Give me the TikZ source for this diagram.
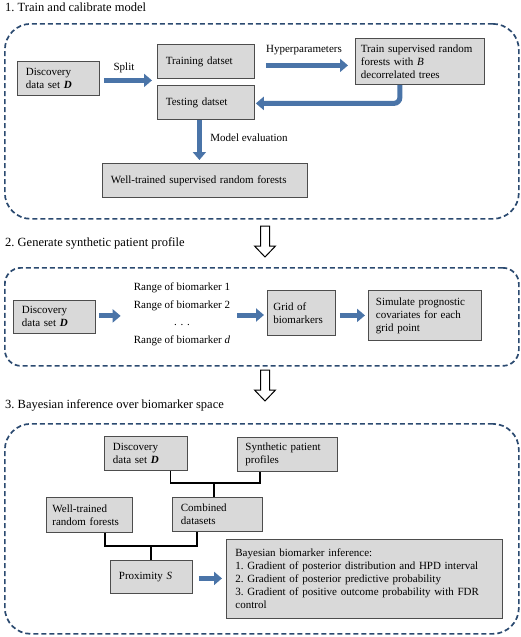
\documentclass[tikz,border=0pt]{standalone}
\usepackage{fontspec}
\setmainfont{Liberation Serif}
\usetikzlibrary{arrows.meta,calc}
\definecolor{boxfill}{HTML}{D9D9D9}
\definecolor{boxline}{HTML}{4D4D4D}
\definecolor{arrblue}{HTML}{4A74A8}
\definecolor{dashblue}{HTML}{2B4A70}
\newcommand\fs{\frenchspacing\fontsize{11}{13}\selectfont}
\newcommand\ts{\frenchspacing\fontsize{12.5}{14}\selectfont}
\tikzset{
  bx/.style={draw=boxline, fill=boxfill, line width=0.8pt, anchor=north west,
    inner xsep=8.5pt, inner ysep=2pt, align=left, font=\fs},
  dbox/.style={draw=dashblue, line width=1.7pt, dash pattern=on 5pt off 3pt,
    anchor=north west, inner sep=0pt},
  barrow/.style={draw=arrblue, line width=5pt, -{Triangle[length=8pt,width=13pt]}},
  conn/.style={draw=black, line width=1.2pt},
  lbl/.style={font=\fs, inner sep=0pt},
  ttl/.style={font=\ts, inner sep=0pt, anchor=west},
  hollow/.style={draw=black, line width=1pt, fill=white, line join=miter}
}
\begin{document}
\begin{tikzpicture}[x=1pt,y=-1pt]
\useasboundingbox (0,0) rectangle (520,637);
% ---------- Section 1 ----------
\node[ttl] (t1) at (5,7) {1. Train and calibrate model};
\node[dbox, minimum width=514pt, minimum height=195pt, rounded corners=26pt] (sec1) at (4,23) {};
\node[bx, minimum width=82pt, minimum height=34pt, text width=65pt] (disc1) at (17,61) {Discovery\\data set \textbf{\textit{D}}};
\node[bx, minimum width=97pt, minimum height=34pt, text width=80pt] (train) at (157,44) {Training datset};
\node[bx, minimum width=97pt, minimum height=34pt, text width=80pt] (test) at (157,85) {Testing datset};
\node[bx, minimum width=129pt, minimum height=46pt, text width=118pt, inner xsep=5.5pt] (rf) at (355,38) {Train supervised random\\forests with \textit{B}\\decorrelated trees};
\node[bx, minimum width=205pt, minimum height=34pt, text width=188pt] (well) at (102,163) {Well-trained supervised random forests};
\draw[barrow] ($(disc1.east)+(4,2)$) -- ($(disc1.east -| train.west)+(-5,2)$);
\node[lbl] (lsplit) at (124,68) {Split};
\draw[barrow] ($(train.east)+(11,4)$) -- ($(train.east -| rf.west)+(-7,4)$);
\node[lbl] (lhyper) at (304,50) {Hyperparameters};
\draw[barrow, rounded corners=6pt] ($(rf.south)+(-20,0)$) |- ($(test.east)+(1,1)$);
\draw[barrow] ($(test.south)+(-6.5,0)$) -- ($(test.south |- well.north)+(-6.5,-3)$);
\node[lbl] (leval) at (249,138) {Model evaluation};
% hollow arrow 1
\draw[hollow] (260.5,226) -- (269.5,226) -- (269.5,246) -- (275.5,246) -- (265,257) -- (254.5,246) -- (260.5,246) -- cycle;
% ---------- Section 2 ----------
\node[ttl] (t2) at (5,243) {2. Generate synthetic patient profile};
\node[dbox, minimum width=514pt, minimum height=98pt, rounded corners=16pt] (sec2) at (4,267) {};
\node[bx, minimum width=82pt, minimum height=33pt, text width=65pt] (disc2) at (13,300) {Discovery\\data set \textbf{\textit{D}}};
\node[font=\fontsize{11}{17.6}\selectfont, align=center, inner sep=0pt] (ranges) at (182,314.5)
  {Range of biomarker 1\\Range of biomarker 2\\. . .\\Range of biomarker \textit{d}};
\node[bx, minimum width=68pt, minimum height=45pt, text width=56pt, inner xsep=6pt] (grid) at (267,290) {Grid of\\biomarkers};
\node[bx, minimum width=113pt, minimum height=50pt, text width=98pt, inner xsep=7.5pt] (sim) at (368,290) {Simulate prognostic\\covariates for each\\grid point};
\draw[barrow] ($(disc2.east)+(3,-1)$) -- ($(disc2.east -| ranges.west)+(-13,-1)$);
\draw[barrow] ($(ranges.east)+(7,0.5)$) -- ($(ranges.east -| grid.west)+(-3,0.5)$);
\draw[barrow] ($(grid.east)+(4,2.5)$) -- ($(grid.east -| sim.west)+(-3,2.5)$);
% hollow arrow 2
\draw[hollow] (260.5,370) -- (269.5,370) -- (269.5,390) -- (275.5,390) -- (265,401) -- (254.5,390) -- (260.5,390) -- cycle;
% ---------- Section 3 ----------
\node[ttl] (t3) at (5,405) {3. Bayesian inference over biomarker space};
\node[dbox, minimum width=514pt, minimum height=210pt, rounded corners=26pt] (sec3) at (4,423) {};
\node[bx, minimum width=83pt, minimum height=34pt, text width=66pt] (disc3) at (104,436) {Discovery\\data set \textbf{\textit{D}}};
\node[bx, minimum width=100pt, minimum height=34pt, text width=84pt, inner xsep=8pt] (synth) at (237,437) {Synthetic patient\\profiles};
\node[bx, minimum width=90pt, minimum height=34pt, text width=73pt] (comb) at (172,497) {Combined\\datasets};
\node[bx, minimum width=86pt, minimum height=35pt, text width=74pt, inner xsep=6pt] (wellrf) at (46,497) {Well-trained\\random forests};
\node[bx, minimum width=82pt, minimum height=33pt, text width=65pt] (prox) at (110,560) {Proximity \textit{S}};
\node[bx, minimum width=276pt, minimum height=79pt, text width=258pt, inner xsep=9pt] (bayes) at (226,539)
  {Bayesian biomarker inference:\\1. Gradient of posterior distribution and HPD interval\\2. Gradient of posterior predictive probability\\3. Gradient of positive outcome probability with FDR\\control};
\coordinate (j1) at (214,483);
\coordinate (j2) at (151,546);
\draw[conn] ($(disc3.south east)+(-17,0)$) |- (j1) -| ($(synth.south west)+(23,0)$);
\draw[conn] (j1) -- (j1 |- comb.north);
\draw[conn] ($(wellrf.south west)+(59,0)$) |- (j2) -| ($(comb.south west)+(25,0)$);
\draw[conn] (j2) -- (j2 |- prox.north);
\draw[barrow] ($(prox.east)+(6,1.5)$) -- ($(prox.east -| bayes.west)+(-4,1.5)$);
\end{tikzpicture}
\end{document}
